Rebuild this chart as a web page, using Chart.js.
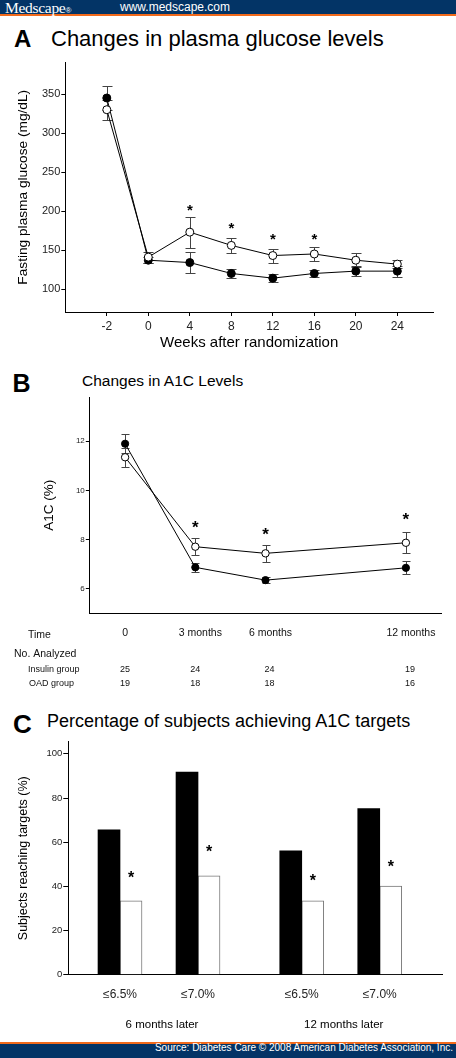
<!DOCTYPE html>
<html>
<head>
<meta charset="utf-8">
<script src="https://cdn.jsdelivr.net/npm/chart.js@4.4.1/dist/chart.umd.min.js"></script>
<style>
    html, body { margin: 0; padding: 0; background: #fff; }
    body { width: 456px; height: 1058px; position: relative; overflow: hidden; font-family: "Liberation Sans", Arial, sans-serif; color: #000; }
    .abs { position: absolute; white-space: nowrap; line-height: 1; }
    #topbar { position: absolute; left: 0; top: 0; width: 456px; height: 14px; background: #033466; border-bottom: 2px solid #f26a1b; }
    #botbar { position: absolute; left: 0; top: 1042px; width: 456px; height: 14px; background: #033466; border-top: 2px solid #f26a1b; }
    canvas { position: absolute; left: 0; }
    .letter { font-weight: bold; }
</style>
</head>
<body>
<div id="topbar"></div>
<div class="abs" style="left:5px;top:-0.8px;font:15.5px 'Liberation Serif',serif;color:#fff;letter-spacing:-0.3px">Medscape<span style="font-size:8px;font-family:'Liberation Sans',Arial">®</span></div>
<div class="abs" style="left:120px;top:1.3px;font-size:12px;color:#fff">www.medscape.com</div>

<div class="abs letter" style="left:14px;top:26.7px;font-size:24px">A</div>
<div class="abs" style="left:51px;top:27.9px;font-size:22px">Changes in plasma glucose levels</div>
<canvas id="chartA" width="456" height="305" style="top:55px"></canvas>

<div class="abs letter" style="left:12.5px;top:370.5px;font-size:25px">B</div>
<div class="abs" style="left:82px;top:372.9px;font-size:15.5px">Changes in A1C Levels</div>
<canvas id="chartB" width="456" height="310" style="top:390px"></canvas>

<div class="abs letter" style="left:13px;top:711.3px;font-size:26px">C</div>
<div class="abs" style="left:47px;top:712.1px;font-size:18px">Percentage of subjects achieving A1C targets</div>
<canvas id="chartC" width="456" height="300" style="top:735px"></canvas>

<div id="botbar"></div>
<div class="abs" style="right:3px;top:1042.5px;font-size:10px;color:#fff">Source: Diabetes Care © 2008 American Diabetes Association, Inc.</div>

<script>
// Panel A - fasting plasma glucose
const weeks = ['-2', '0', '4', '8', '12', '16', '20', '24'];
const glucoseInsulin = [345, 137, 134, 120, 114, 120, 123, 123];
const glucoseInsulinErr = [15, 4, 13, 6, 5, 5, 6, 7];
const glucoseOAD = [330, 141, 173, 156, 143, 145, 137, 132];
const glucoseOADErr = [13, 7, 20, 10, 9, 9, 9, 5];
const glucoseStars = [null, null, 206, 183, 169, 169, null, null];
const glucoseTicks = [100, 150, 200, 250, 300, 350];

// Panel B - A1C
const a1cMonths = [0, 3, 6, 12];
const timeLabels = ['0', '3 months', '6 months', '12 months'];
const a1cInsulin = [11.9, 6.87, 6.35, 6.85];
const a1cInsulinErr = [0.38, 0.17, 0.12, 0.26];
const a1cOAD = [11.35, 7.71, 7.44, 7.87];
const a1cOADErr = [0.38, 0.34, 0.34, 0.43];
const a1cStars = [null, 8.66, 8.36, 9.0];
const a1cTicks = [6, 8, 10, 12];
const nInsulin = [25, 24, 24, 19];
const nOAD = [19, 18, 18, 16];

// Panel C - subjects reaching targets
const targets = ['≤6.5%', '≤7.0%', '≤6.5%', '≤7.0%'];
const periods = ['6 months later', '12 months later'];
const targetInsulin = [65.6, 91.8, 56.1, 75.2];
const targetOAD = [33.4, 44.8, 33.4, 40.1];
const targetStars = [45.5, 57.2, 44.3, 50.5];
const targetTicks = [0, 20, 40, 60, 80, 100];

const FONT = '"Liberation Sans", Arial, sans-serif';
Chart.defaults.font.family = FONT;
Chart.defaults.color = '#000';
Chart.defaults.animation = false;

const errorBarPlugin = {
    id: 'errorBars',
    beforeDatasetsDraw(chart, args, opts) {
        const ctx = chart.ctx, y = chart.scales.y;
        ctx.save();
        ctx.strokeStyle = opts.color || '#444';
        ctx.lineWidth = 1;
        chart.data.datasets.forEach((ds, di) => {
            if (!ds.err) return;
            chart.getDatasetMeta(di).data.forEach((pt, i) => {
                const e = ds.err[i];
                if (!e) return;
                const v = ds.data[i].y;
                const top = Math.round(y.getPixelForValue(v + e)) + 0.5;
                const bot = Math.round(y.getPixelForValue(v - e)) + 0.5;
                const x = Math.round(pt.x) + 0.5;
                ctx.beginPath();
                ctx.moveTo(x, top); ctx.lineTo(x, bot);
                ctx.moveTo(x - opts.cap, top); ctx.lineTo(x + opts.cap, top);
                ctx.moveTo(x - opts.cap, bot); ctx.lineTo(x + opts.cap, bot);
                ctx.stroke();
            });
        });
        ctx.restore();
    }
};

const starPlugin = {
    id: 'stars',
    afterDatasetsDraw(chart, args, opts) {
        const ctx = chart.ctx, y = chart.scales.y;
        const meta = chart.getDatasetMeta(opts.dataset);
        ctx.save();
        ctx.fillStyle = '#000';
        ctx.font = 'bold ' + opts.size + 'px ' + FONT;
        ctx.textAlign = 'center';
        ctx.textBaseline = 'alphabetic';
        opts.values.forEach((v, i) => {
            if (v == null) return;
            ctx.fillText('*', meta.data[i].x, y.getPixelForValue(v) + opts.size * 0.57);
        });
        ctx.restore();
    }
};

// table under panel B, columns follow the x scale
const tablePlugin = {
    id: 'a1cTable',
    afterDraw(chart) {
        const ctx = chart.ctx, x = chart.scales.x;
        const base = chart.chartArea.bottom;
        ctx.save();
        ctx.fillStyle = '#111';
        ctx.textBaseline = 'middle';
        ctx.textAlign = 'left';
        ctx.font = '10.5px ' + FONT;
        ctx.fillText('Time', 28, base + 22);
        ctx.fillText('No. Analyzed', 14, base + 41);
        ctx.font = '9px ' + FONT;
        ctx.fillText('Insulin group', 28, base + 56);
        ctx.fillText('OAD group', 29, base + 70);
        ctx.textAlign = 'center';
        a1cMonths.forEach((m, i) => {
            const px = x.getPixelForValue(m);
            ctx.font = '10.5px ' + FONT;
            ctx.fillText(timeLabels[i], px + (i ? 5 : 0), base + 20);
            ctx.font = '9px ' + FONT;
            ctx.fillText(String(nInsulin[i]), px + (i > 1 ? 4 : 0), base + 56);
            ctx.fillText(String(nOAD[i]), px + (i > 1 ? 4 : 0), base + 70);
        });
        ctx.restore();
    }
};

const perGroup = targets.length / periods.length;
const GROUP_GAP = 0.33;
const targetX = targets.map((t, i) => i + Math.floor(i / perGroup) * GROUP_GAP);

const periodPlugin = {
    id: 'periods',
    afterDraw(chart) {
        const ctx = chart.ctx, x = chart.scales.x;
        ctx.save();
        ctx.fillStyle = '#000';
        ctx.font = '11.5px ' + FONT;
        ctx.textAlign = 'center';
        ctx.textBaseline = 'middle';
        periods.forEach((p, g) => {
            const a = x.getPixelForValue(targetX[g * perGroup]);
            const b = x.getPixelForValue(targetX[g * perGroup + perGroup - 1]);
            ctx.fillText(p, (a + b) / 2 + 3, x.top + 50);
        });
        ctx.restore();
    }
};

const axisLine = { color: '#000', width: 1 };

new Chart(document.getElementById('chartA'), {
    type: 'line',
    data: {
        datasets: [
            {
                label: 'OAD group', data: weeks.map((w, i) => ({ x: i, y: glucoseOAD[i] })), err: glucoseOADErr,
                borderColor: '#000', borderWidth: 1, pointRadius: 4, pointBackgroundColor: '#fff',
                pointBorderColor: '#000', pointBorderWidth: 1
            },
            {
                label: 'Insulin group', data: weeks.map((w, i) => ({ x: i, y: glucoseInsulin[i] })), err: glucoseInsulinErr,
                borderColor: '#000', borderWidth: 1, pointRadius: 4, pointBackgroundColor: '#000',
                pointBorderColor: '#000', pointBorderWidth: 1
            }
        ]
    },
    options: {
        responsive: false,
        layout: { padding: { top: 6.7, right: 23, left: 0, bottom: 0 } },
        plugins: {
            legend: { display: false }, tooltip: { enabled: false },
            errorBars: { cap: 5, color: '#444' },
            stars: { values: glucoseStars, dataset: 0, size: 15 }
        },
        scales: {
            x: {
                type: 'linear', min: -1, max: 7.86,
                afterBuildTicks: s => { s.ticks = weeks.map((w, i) => ({ value: i })); },
                afterFit: s => { s.height = 48; },
                ticks: { callback: v => weeks[v], font: { size: 12 }, color: '#222', padding: 3, maxRotation: 0, autoSkip: false },
                grid: { drawOnChartArea: false, tickLength: 4, color: '#000' },
                border: axisLine,
                title: { display: true, text: 'Weeks after randomization', font: { size: 15 }, padding: { top: 0, bottom: 8 }, color: '#000' }
            },
            y: {
                min: 70.6, max: 390.4,
                afterBuildTicks: s => { s.ticks = glucoseTicks.map(v => ({ value: v })); },
                afterFit: s => { s.width = 65.3; },
                ticks: { font: { size: 11 }, color: '#222', padding: 1 },
                grid: { drawOnChartArea: false, tickLength: 4, color: '#000' },
                border: axisLine,
                title: { display: true, text: 'Fasting plasma glucose (mg/dL)', font: { size: 13.7 }, padding: { top: 14.8, bottom: 0 }, color: '#000' }
            }
        }
    },
    plugins: [errorBarPlugin, starPlugin]
});

new Chart(document.getElementById('chartB'), {
    type: 'line',
    data: {
        datasets: [
            {
                label: 'OAD group', data: a1cMonths.map((m, i) => ({ x: m, y: a1cOAD[i] })), err: a1cOADErr,
                borderColor: '#000', borderWidth: 1, pointRadius: 3.7, pointBackgroundColor: '#fff',
                pointBorderColor: '#000', pointBorderWidth: 1
            },
            {
                label: 'Insulin group', data: a1cMonths.map((m, i) => ({ x: m, y: a1cInsulin[i] })), err: a1cInsulinErr,
                borderColor: '#000', borderWidth: 1, pointRadius: 3.6, pointBackgroundColor: '#000',
                pointBorderColor: '#000', pointBorderWidth: 1
            }
        ]
    },
    options: {
        responsive: false,
        layout: { padding: { top: 7.3, right: 14.3, left: 0, bottom: 86.7 } },
        plugins: {
            legend: { display: false }, tooltip: { enabled: false },
            errorBars: { cap: 4, color: '#444' },
            stars: { values: a1cStars, dataset: 0, size: 17 }
        },
        scales: {
            x: {
                type: 'linear', min: -1.53, max: 13.53,
                afterFit: s => { s.height = 0; },
                ticks: { display: false },
                grid: { display: false, drawTicks: false },
                border: axisLine
            },
            y: {
                min: 5.0, max: 13.79,
                afterBuildTicks: s => { s.ticks = a1cTicks.map(v => ({ value: v })); },
                afterFit: s => { s.width = 89.3; },
                ticks: { font: { size: 8 }, color: '#222', padding: 1 },
                grid: { drawOnChartArea: false, tickLength: 3.5, color: '#000' },
                border: axisLine,
                title: { display: true, text: 'A1C (%)', font: { size: 13.5 }, padding: { top: 41.2, bottom: 0 }, color: '#000' }
            }
        }
    },
    plugins: [errorBarPlugin, starPlugin, tablePlugin]
});

new Chart(document.getElementById('chartC'), {
    type: 'bar',
    data: {
        datasets: [
            {
                label: 'Insulin group', data: targetX.map((x, i) => ({ x, y: targetInsulin[i] })),
                backgroundColor: '#000', borderWidth: 0, barThickness: 22
            },
            {
                label: 'OAD group', data: targetX.map((x, i) => ({ x, y: targetOAD[i] })),
                backgroundColor: '#fff', borderColor: '#777', borderWidth: 1, barThickness: 22
            }
        ]
    },
    options: {
        responsive: false,
        layout: { padding: { top: 5, right: 13.3, left: 0, bottom: 0 } },
        plugins: {
            legend: { display: false }, tooltip: { enabled: false },
            stars: { values: targetStars, dataset: 1, size: 16 }
        },
        scales: {
            x: {
                type: 'linear', min: -0.663, max: 4.137, offset: false,
                afterBuildTicks: s => { s.ticks = targetX.map(v => ({ value: v })); },
                afterFit: s => { s.height = 60.3; },
                ticks: { callback: (v, i) => targets[i], font: { size: 12 }, color: '#222', padding: 12.7, maxRotation: 0, autoSkip: false },
                grid: { display: false, drawTicks: false, offset: false },
                border: axisLine
            },
            y: {
                min: 0, max: 105.5,
                afterBuildTicks: s => { s.ticks = targetTicks.map(v => ({ value: v })); },
                afterFit: s => { s.width = 68.3; },
                ticks: { font: { size: 9.5 }, color: '#222', padding: 1 },
                grid: { drawOnChartArea: false, tickLength: 5, color: '#000' },
                border: axisLine,
                title: { display: true, text: 'Subjects reaching targets (%)', font: { size: 12.5 }, padding: { top: 16.5, bottom: 0 }, color: '#000' }
            }
        }
    },
    plugins: [starPlugin, periodPlugin]
});
</script>
</body>
</html>
